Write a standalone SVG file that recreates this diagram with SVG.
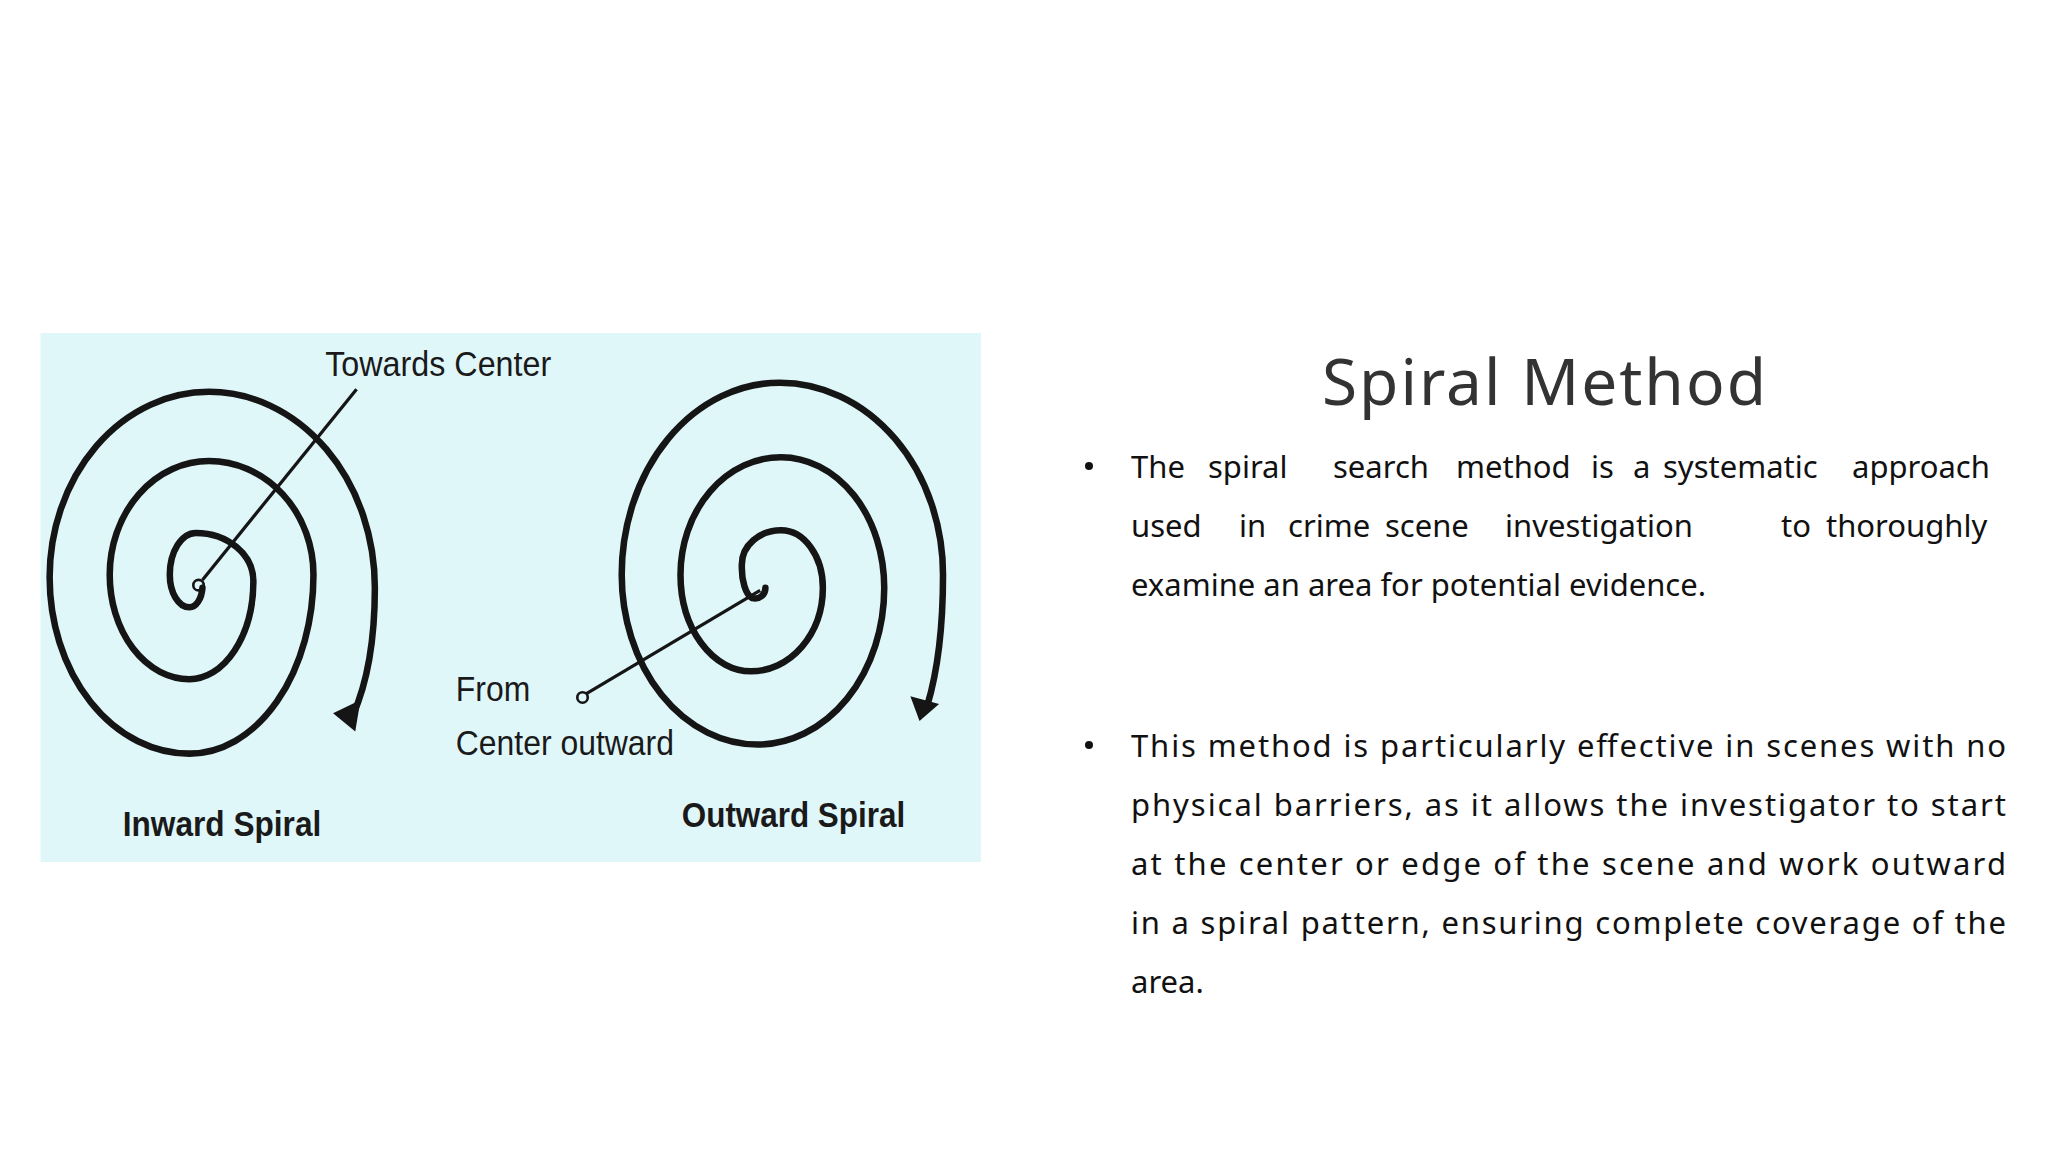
<svg xmlns="http://www.w3.org/2000/svg" width="2048" height="1152" viewBox="0 0 2048 1152">
<style>
.sp{fill:none;stroke:#151515;stroke-width:5;stroke-linecap:round}
.lab{font-family:"Liberation Sans",Arial,sans-serif;font-size:27px;fill:#1a1a1a}
.b{font-weight:bold}
.body{font-family:"Noto Sans","Open Sans",sans-serif;font-size:31px;fill:#111}
</style>
<rect width="2048" height="1152" fill="#fff"/>
<g id="image" transform="scale(1.30612)">
<rect x="31" y="255" width="720" height="405" fill="#e0f7fa"/>
<g id="inward">
<path class="sp" d="M270,548 Q287,510 287,450 A127,150 0 0 0 160,300 A122,142 0 0 0 38,442 A107,135 0 0 0 145,577 A95,137 0 0 0 240,440 A80,87 0 0 0 160,353 A76,87 0 0 0 84,440 A61,80 0 0 0 145,520 A49,75 0 0 0 194,445 A44,37 0 0 0 150,408 A20,32 0 0 0 130,440 A15,25 0 0 0 145,465 A10,17 0 0 0 155,450"/>
<polygon points="255,546 276,536 272,560" fill="#151515"/>
</g>
<g id="outward">
<path class="sp" d="M586,450 A8,8 0 0 1 576,458 A10,24 0 0 1 568,432 A30,26 0 0 1 598,406 A32,44 0 0 1 630,450 A55,64 0 0 1 575,514 A54,74 0 0 1 521,440 A77,90 0 0 1 598,350 A79,100 0 0 1 677,450 A97,120 0 0 1 580,570 A104,130 0 0 1 476,440 A121,147 0 0 1 597,293 A125,147 0 0 1 722,440 Q722,500 710,540"/>
<polygon points="697,533 719,539 704,552" fill="#151515"/>
</g>
<g id="connectors">
<line x1="273" y1="298" x2="155" y2="444" stroke="#151515" stroke-width="2.5"/>
<circle cx="152" cy="448" r="4" fill="none" stroke="#151515" stroke-width="2"/>
<line x1="449" y1="531" x2="582" y2="452" stroke="#151515" stroke-width="2.5"/>
<circle cx="446" cy="534" r="4" fill="none" stroke="#151515" stroke-width="2"/>
</g>
<text class="lab" x="249" y="288" textLength="173" lengthAdjust="spacingAndGlyphs">Towards Center</text>
<text class="lab" x="349" y="537" textLength="57" lengthAdjust="spacingAndGlyphs">From</text>
<text class="lab" x="349" y="578" textLength="167" lengthAdjust="spacingAndGlyphs">Center outward</text>
<text class="lab b" x="94" y="640" textLength="152" lengthAdjust="spacingAndGlyphs">Inward Spiral</text>
<text class="lab b" x="522" y="633" textLength="171" lengthAdjust="spacingAndGlyphs">Outward Spiral</text>
</g>
<g id="text">
<text x="1544" y="405" text-anchor="middle" font-family="'Noto Sans','Open Sans',sans-serif" font-size="64" fill="#333" textLength="444">Spiral Method</text>
<circle cx="1089" cy="466" r="4" fill="#111"/>
<text class="body" y="478"><tspan x="1131">The</tspan><tspan x="1208">spiral</tspan><tspan x="1333">search</tspan><tspan x="1456">method</tspan><tspan x="1591">is</tspan><tspan x="1633">a</tspan><tspan x="1663">systematic</tspan><tspan x="1852">approach</tspan></text>
<text class="body" y="537"><tspan x="1131">used</tspan><tspan x="1239">in</tspan><tspan x="1288">crime</tspan><tspan x="1385">scene</tspan><tspan x="1505">investigation</tspan><tspan x="1781">to</tspan><tspan x="1826">thoroughly</tspan></text>
<text class="body" x="1131" y="596">examine an area for potential evidence.</text>
<circle cx="1089" cy="745" r="4" fill="#111"/>
<text class="body" x="1131" y="757" textLength="875">This method is particularly effective in scenes with no</text>
<text class="body" x="1131" y="816" textLength="875">physical barriers, as it allows the investigator to start</text>
<text class="body" x="1131" y="875" textLength="875">at the center or edge of the scene and work outward</text>
<text class="body" x="1131" y="934" textLength="875">in a spiral pattern, ensuring complete coverage of the</text>
<text class="body" x="1131" y="993">area.</text>
</g>
</svg>
